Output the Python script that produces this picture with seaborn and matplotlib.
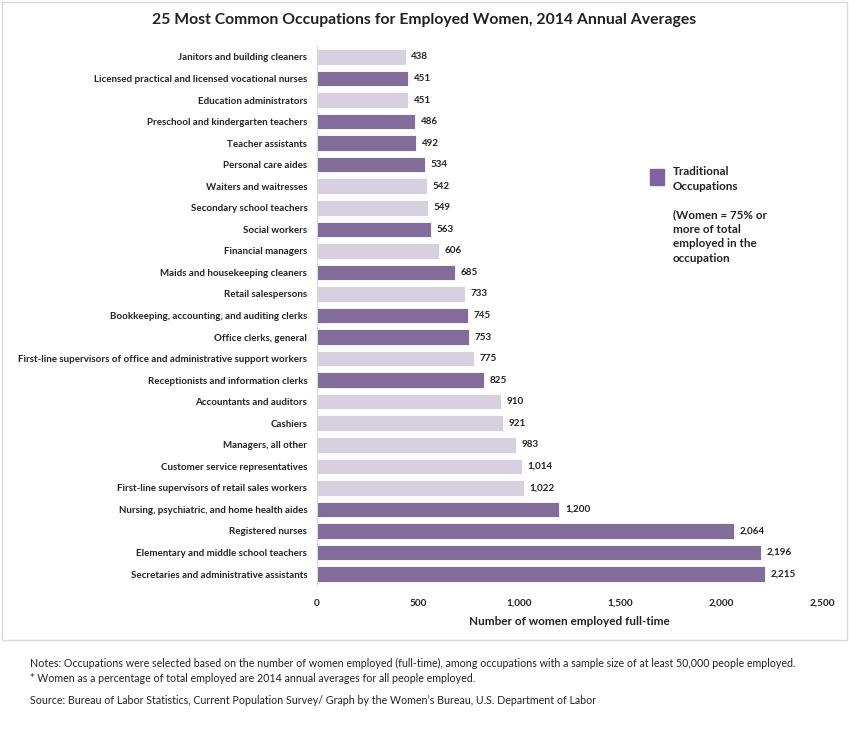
import matplotlib.pyplot as plt
import matplotlib.patches as mpatches
import seaborn as sns
import pandas as pd

occupations = [
    "Janitors and building cleaners",
    "Licensed practical and licensed vocational nurses",
    "Education administrators",
    "Preschool and kindergarten teachers",
    "Teacher assistants",
    "Personal care aides",
    "Waiters and waitresses",
    "Secondary school teachers",
    "Social workers",
    "Financial managers",
    "Maids and housekeeping cleaners",
    "Retail salespersons",
    "Bookkeeping, accounting, and auditing clerks",
    "Office clerks, general",
    "First-line supervisors of office and administrative support workers",
    "Receptionists and information clerks",
    "Accountants and auditors",
    "Cashiers",
    "Managers, all other",
    "Customer service representatives",
    "First-line supervisors of retail sales workers",
    "Nursing, psychiatric, and home health aides",
    "Registered nurses",
    "Elementary and middle school teachers",
    "Secretaries and administrative assistants",
]
women_employed = [438, 451, 451, 486, 492, 534, 542, 549, 563, 606, 685, 733, 745,
                  753, 775, 825, 910, 921, 983, 1014, 1022, 1200, 2064, 2196, 2215]
traditional = [False, True, False, True, True, True, False, False, True, False, True,
               False, True, True, False, True, False, False, False, False, False,
               True, True, True, True]
x_ticks = [0, 500, 1000, 1500, 2000, 2500]

DARK = "#8064A2"
LIGHT = "#D5CDE3"

df = pd.DataFrame({"occupation": occupations, "employed": women_employed,
                   "group": ["Traditional" if t else "Other" for t in traditional]})

sns.set_style("white")
plt.rcParams["font.family"] = ["Lato", "DejaVu Sans"]

fig = plt.figure(figsize=(8.49, 7.32), dpi=100)
ax = fig.add_axes([0.3734, 0.2011, 0.595, 0.7358])

sns.barplot(data=df, x="employed", y="occupation", hue="group",
            palette={"Traditional": DARK, "Other": LIGHT}, dodge=False,
            width=0.72, legend=False, ax=ax, edgecolor="white", linewidth=0.6)

for i, v in enumerate(women_employed):
    ax.text(v + 28, i, f"{v:,}", va="center", ha="left", fontsize=7.1,
            fontweight="bold", color="#222222")

ax.set_xlim(0, 2500)
ax.set_ylim(len(occupations) - 0.5, -0.5)
ax.set_xticks(x_ticks)
ax.set_xticklabels([f"{t:,}" for t in x_ticks],
                   fontsize=7.2, fontweight="bold", color="#222222")
ax.tick_params(axis="x", length=0, pad=10)
ax.tick_params(axis="y", length=0, pad=7)
for lab in ax.get_yticklabels():
    lab.set_fontsize(7.0)
    lab.set_fontweight("bold")
    lab.set_color("#222222")
ax.set_ylabel("")
ax.set_xlabel("Number of women employed full-time", fontsize=8.5, fontweight="bold",
              color="#222222", labelpad=6)
for s in ["top", "right", "bottom"]:
    ax.spines[s].set_visible(False)
ax.spines["left"].set_color("#D9D9D9")
ax.spines["left"].set_linewidth(0.8)

fig.text(0.5, 0.973, "25 Most Common Occupations for Employed Women, 2014 Annual Averages",
         ha="center", va="center", fontsize=11.3, fontweight="bold", color="#222222")

# legend box
fig.patches.append(mpatches.Rectangle((650 / 849, 1 - 185 / 732), 14 / 849, 16 / 732,
                                      transform=fig.transFigure, color=DARK))
fig.text(673 / 849, 1 - 166 / 732, "Traditional\nOccupations", ha="left", va="top",
         fontsize=8.4, fontweight="bold", color="#222222", linespacing=1.4)
fig.text(673 / 849, 1 - 209 / 732,
         "(Women = 75% or\nmore of total\nemployed in the\noccupation",
         ha="left", va="top", fontsize=8.4, fontweight="bold", color="#222222",
         linespacing=1.4)

# chart border
fig.patches.append(mpatches.Rectangle((2 / 849, 1 - 640 / 732), 845 / 849, 638 / 732,
                                      transform=fig.transFigure, fill=False,
                                      edgecolor="#D9D9D9", linewidth=1))

notes = [
    (663, "Notes: Occupations were selected based on the number of women employed (full-time), "
          "among occupations with a sample size of at least 50,000 people employed."),
    (679, "* Women as a percentage of total employed are 2014 annual averages for all people employed."),
    (701, "Source: Bureau of Labor Statistics, Current Population Survey/ Graph by the "
          "Women\u2019s Bureau, U.S. Department of Labor"),
]
for y, txt in notes:
    fig.text(30 / 849, 1 - y / 732, txt, ha="left", va="center", fontsize=7.7,
             color="#222222")

fig.savefig("out.png", dpi=100)
